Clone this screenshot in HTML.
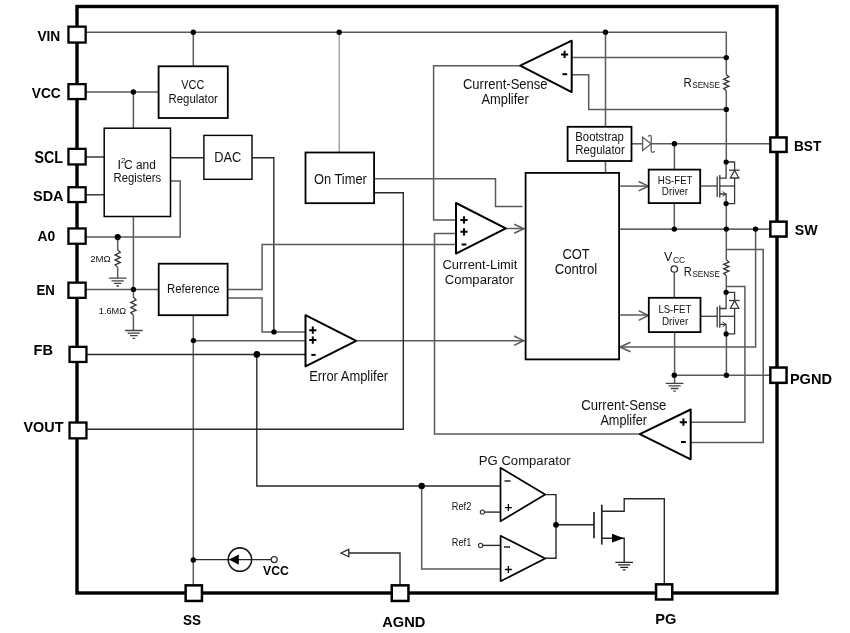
<!DOCTYPE html>
<html><head><meta charset="utf-8"><style>
html,body{margin:0;padding:0;background:#fff;width:850px;height:633px;overflow:hidden}
svg{display:block;will-change:transform}
text{font-family:"Liberation Sans",sans-serif}
</style></head><body>
<svg width="850" height="633" viewBox="0 0 850 633">
<rect x="0" y="0" width="850" height="633" fill="#fff"/>
<polyline points="86,32.2 726.3,32.2 726.3,74.6" fill="none" stroke="#5a5a5a" stroke-width="1.5"/>
<polyline points="726.3,74.6 728.9,76.91 723.7,79.23 728.9,81.54 723.7,83.86 728.9,86.17 723.7,88.49 726.3,90.8" fill="none" stroke="#333" stroke-width="1.3"/>
<polyline points="726.3,90.8 726.3,162" fill="none" stroke="#5a5a5a" stroke-width="1.5"/>
<polyline points="193.3,32 193.3,66" fill="none" stroke="#5a5a5a" stroke-width="1.5"/>
<polyline points="339.2,32.2 339.2,152" fill="none" stroke="#a0a0a0" stroke-width="1.4"/>
<polyline points="605.5,32 605.5,126.7" fill="none" stroke="#5a5a5a" stroke-width="1.5"/>
<polyline points="86,92 158.4,92" fill="none" stroke="#5a5a5a" stroke-width="1.5"/>
<polyline points="133.4,92 133.4,128" fill="none" stroke="#5a5a5a" stroke-width="1.5"/>
<polyline points="86,157 104,157" fill="none" stroke="#2a2a2a" stroke-width="1.4"/>
<polyline points="86,194.8 104,194.8" fill="none" stroke="#2a2a2a" stroke-width="1.4"/>
<polyline points="170.5,157.8 203.8,157.8" fill="none" stroke="#2a2a2a" stroke-width="1.4"/>
<polyline points="170.5,181 180.2,181 180.2,237.1 86,237.1" fill="none" stroke="#5a5a5a" stroke-width="1.5"/>
<polyline points="117.7,237.1 117.7,249.9" fill="none" stroke="#5a5a5a" stroke-width="1.5"/>
<polyline points="117.7,249.9 120.3,252.4 115.1,254.9 120.3,257.4 115.1,259.9 120.3,262.4 115.1,264.9 117.7,267.4" fill="none" stroke="#333" stroke-width="1.3"/>
<polyline points="117.7,267.4 117.7,278.2" fill="none" stroke="#5a5a5a" stroke-width="1.5"/>
<path d="M108.9 278.2H126.5M111.6 280.8H123.8M113.9 283.4H121.5M116.4 286H119" fill="none" stroke="#444" stroke-width="1.3"/>
<polyline points="133.4,216.5 133.4,297.3" fill="none" stroke="#5a5a5a" stroke-width="1.5"/>
<polyline points="133.4,297.3 136,299.87 130.8,302.44 136,305.01 130.8,307.59 136,310.16 130.8,312.73 133.4,315.3" fill="none" stroke="#333" stroke-width="1.3"/>
<polyline points="133.4,315.3 133.4,330.5" fill="none" stroke="#5a5a5a" stroke-width="1.5"/>
<path d="M125 330.5H142.6M127.7 333.1H139.9M130 335.7H137.6M132.5 338.3H135.1" fill="none" stroke="#444" stroke-width="1.3"/>
<polyline points="86,289.4 158.5,289.4" fill="none" stroke="#5a5a5a" stroke-width="1.5"/>
<polyline points="251.8,157.8 273.8,157.8 273.8,331.9" fill="none" stroke="#2a2a2a" stroke-width="1.4"/>
<polyline points="227.6,289.5 262.1,289.5 262.1,244.6 456,244.6" fill="none" stroke="#5a5a5a" stroke-width="1.5"/>
<polyline points="227.6,298 262.1,298 262.1,331.9 305.5,331.9" fill="none" stroke="#5a5a5a" stroke-width="1.5"/>
<polyline points="193.3,315.2 193.3,584.3" fill="none" stroke="#5a5a5a" stroke-width="1.5"/>
<polyline points="193.3,340.7 305.5,340.7" fill="none" stroke="#5a5a5a" stroke-width="1.5"/>
<polyline points="87,354.5 305.5,354.5" fill="none" stroke="#2a2a2a" stroke-width="1.4"/>
<polyline points="256.8,354.5 256.8,486 500.5,486" fill="none" stroke="#2a2a2a" stroke-width="1.4"/>
<polyline points="421.7,486 421.7,569 500.6,569" fill="none" stroke="#5a5a5a" stroke-width="1.5"/>
<polyline points="356.2,340.8 524.5,340.8" fill="none" stroke="#5a5a5a" stroke-width="1.5"/>
<path d="M514.1 336L523.6 340.7L514.1 345.4" fill="none" stroke="#5a5a5a" stroke-width="1.5"/>
<polyline points="87,429.2 403.3,429.2 403.3,192.8 374.1,192.8" fill="none" stroke="#2a2a2a" stroke-width="1.4"/>
<polyline points="374.1,178.7 495.5,178.7 495.5,206.6 522.5,206.6" fill="none" stroke="#5a5a5a" stroke-width="1.5"/>
<polyline points="520.2,65.7 433.6,65.7 433.6,219.9 456,219.9" fill="none" stroke="#5a5a5a" stroke-width="1.5"/>
<polyline points="639.8,434 434.5,434 434.5,233.4 456,233.4" fill="none" stroke="#5a5a5a" stroke-width="1.5"/>
<polyline points="505.8,228.5 524.5,228.5" fill="none" stroke="#5a5a5a" stroke-width="1.5"/>
<path d="M514.2 224.2L523.8 228.7L514.2 233.2" fill="none" stroke="#5a5a5a" stroke-width="1.5"/>
<polyline points="571.7,57.6 726.3,57.6" fill="none" stroke="#5a5a5a" stroke-width="1.5"/>
<polyline points="571.7,74.8 588.7,74.8 588.7,109.4 726.3,109.4" fill="none" stroke="#5a5a5a" stroke-width="1.5"/>
<polyline points="605.5,161 605.5,173.3" fill="none" stroke="#5a5a5a" stroke-width="1.5"/>
<polyline points="631.6,143.8 642.6,143.8" fill="none" stroke="#5a5a5a" stroke-width="1.5"/>
<polyline points="651,143.8 769.3,143.8" fill="none" stroke="#5a5a5a" stroke-width="1.5"/>
<polyline points="674.4,143.8 674.4,169.5" fill="none" stroke="#5a5a5a" stroke-width="1.5"/>
<polygon points="642.6,137.2 651.1,143.8 642.6,150.5" fill="#fff" stroke="#5a5a5a" stroke-width="1.3"/>
<path d="M648.3 136.6Q648.6 135.3 650 135.3Q651.2 135.3 651.2 137V150.8Q651.2 152.3 652.5 152.3Q654 152.3 654.5 151" fill="none" stroke="#5a5a5a" stroke-width="1.3"/>
<polyline points="619.4,186.1 648.5,186.1" fill="none" stroke="#5a5a5a" stroke-width="1.5"/>
<path d="M638.7 181.5L648.3 186.2L638.7 190.9" fill="none" stroke="#5a5a5a" stroke-width="1.5"/>
<polyline points="674.3,203.2 674.3,229.1" fill="none" stroke="#5a5a5a" stroke-width="1.5"/>
<polyline points="619.4,229.1 769.3,229.1" fill="none" stroke="#2a2a2a" stroke-width="1.4"/>
<polyline points="726.3,203.6 726.3,259.8" fill="none" stroke="#5a5a5a" stroke-width="1.5"/>
<polyline points="726.3,259.8 728.9,262.06 723.7,264.31 728.9,266.57 723.7,268.83 728.9,271.09 723.7,273.34 726.3,275.6" fill="none" stroke="#333" stroke-width="1.3"/>
<polyline points="726.3,275.6 726.3,292.3" fill="none" stroke="#5a5a5a" stroke-width="1.5"/>
<polyline points="726.3,249.4 763.2,249.4 763.2,442.6 690.7,442.6" fill="none" stroke="#5a5a5a" stroke-width="1.5"/>
<polyline points="755.6,229.1 755.6,347 620,347" fill="none" stroke="#5a5a5a" stroke-width="1.5"/>
<path d="M630.5 342.3L620 347L630.5 351.7" fill="none" stroke="#5a5a5a" stroke-width="1.5"/>
<polyline points="726.3,286.6 744.9,286.6 744.9,422.2 690.7,422.2" fill="none" stroke="#5a5a5a" stroke-width="1.5"/>
<polyline points="674.3,272.2 674.3,297.6" fill="none" stroke="#5a5a5a" stroke-width="1.5"/>
<circle cx="674.3" cy="269" r="3.2" fill="#fff" stroke="#333" stroke-width="1.3"/>
<polyline points="619.4,315 648.6,315" fill="none" stroke="#5a5a5a" stroke-width="1.5"/>
<path d="M638.7 310.7L648.3 315.5L638.7 320.3" fill="none" stroke="#5a5a5a" stroke-width="1.5"/>
<polyline points="674.6,332.2 674.6,383.3" fill="none" stroke="#5a5a5a" stroke-width="1.5"/>
<path d="M665.8 383.3H683.4M668.5 385.9H680.7M670.8 388.5H678.4M673.3 391.1H675.9" fill="none" stroke="#444" stroke-width="1.3"/>
<polyline points="674.3,375.3 769.4,375.3" fill="none" stroke="#5a5a5a" stroke-width="1.5"/>
<polyline points="726.4,333.6 726.4,375.3" fill="none" stroke="#5a5a5a" stroke-width="1.5"/>
<polyline points="726.1,162 734.6,162 734.6,203.6 726.1,203.6" fill="none" stroke="#3a3a3a" stroke-width="1.3"/>
<polygon points="734.6,170.3 730.4,178 738.8,178" fill="#fff" stroke="#3a3a3a" stroke-width="1.3"/>
<path d="M729 170.2H739.6" fill="none" stroke="#3a3a3a" stroke-width="1.3"/>
<polyline points="726.1,162 726.1,178.2 719.8,178.2" fill="none" stroke="#3a3a3a" stroke-width="1.3"/>
<path d="M719.8 175V197.4" fill="none" stroke="#3a3a3a" stroke-width="1.3"/>
<path d="M717.2 176.5V197" fill="none" stroke="#3a3a3a" stroke-width="1.3"/>
<path d="M700.2 186H717.2" fill="none" stroke="#3a3a3a" stroke-width="1.3"/>
<path d="M719.8 186H734.6" fill="none" stroke="#3a3a3a" stroke-width="1.3"/>
<polyline points="719.8,194 726.1,194 726.1,203.6" fill="none" stroke="#3a3a3a" stroke-width="1.3"/>
<path d="M722.5 191.6L726 194L722.5 196.4" fill="none" stroke="#3a3a3a" stroke-width="1"/>
<circle cx="726.1" cy="162" r="2.6" fill="#000"/>
<circle cx="726.1" cy="203.6" r="2.6" fill="#000"/>
<polyline points="726.1,292.3 734.6,292.3 734.6,333.9 726.1,333.9" fill="none" stroke="#3a3a3a" stroke-width="1.3"/>
<polygon points="734.6,300.6 730.4,308.3 738.8,308.3" fill="#fff" stroke="#3a3a3a" stroke-width="1.3"/>
<path d="M729 300.5H739.6" fill="none" stroke="#3a3a3a" stroke-width="1.3"/>
<polyline points="726.1,292.3 726.1,308.5 719.8,308.5" fill="none" stroke="#3a3a3a" stroke-width="1.3"/>
<path d="M719.8 305.3V327.7" fill="none" stroke="#3a3a3a" stroke-width="1.3"/>
<path d="M717.2 306.8V327.3" fill="none" stroke="#3a3a3a" stroke-width="1.3"/>
<path d="M700.2 316.3H717.2" fill="none" stroke="#3a3a3a" stroke-width="1.3"/>
<path d="M719.8 316.3H734.6" fill="none" stroke="#3a3a3a" stroke-width="1.3"/>
<polyline points="719.8,324.3 726.1,324.3 726.1,333.9" fill="none" stroke="#3a3a3a" stroke-width="1.3"/>
<path d="M722.5 321.9L726 324.3L722.5 326.7" fill="none" stroke="#3a3a3a" stroke-width="1"/>
<circle cx="726.1" cy="292.3" r="2.6" fill="#000"/>
<circle cx="726.1" cy="333.9" r="2.6" fill="#000"/>
<polyline points="545.2,494.6 556,494.6 556,558.3 545,558.3" fill="none" stroke="#2a2a2a" stroke-width="1.4"/>
<polyline points="556,524.8 594,524.8" fill="none" stroke="#2a2a2a" stroke-width="1.4"/>
<path d="M594 512V538.2" fill="none" stroke="#222" stroke-width="1.7"/>
<path d="M601.8 504.7V544.6" fill="none" stroke="#222" stroke-width="1.7"/>
<polyline points="601.8,511.2 624.2,511.2 624.2,498.8 664.3,498.8 664.3,583.3" fill="none" stroke="#2a2a2a" stroke-width="1.4"/>
<polyline points="601.8,538.2 624.2,538.2 624.2,562.3" fill="none" stroke="#2a2a2a" stroke-width="1.4"/>
<polygon points="612,533.8 624,538.2 612,542.6" fill="#000"/>
<path d="M615.4 562.4H633M618.2 564.9H630.2M620.25 567.4H628.15M622.8 569.9H625.6" fill="none" stroke="#222" stroke-width="1.4"/>
<polyline points="484.4,512.1 500.5,512.1" fill="none" stroke="#2a2a2a" stroke-width="1.4"/>
<circle cx="482.4" cy="512.1" r="2.1" fill="#fff" stroke="#333" stroke-width="1.1"/>
<polyline points="482.6,545.4 500.6,545.4" fill="none" stroke="#2a2a2a" stroke-width="1.4"/>
<circle cx="480.6" cy="545.4" r="2.1" fill="#fff" stroke="#333" stroke-width="1.1"/>
<polyline points="193.3,559.6 271,559.6" fill="none" stroke="#2a2a2a" stroke-width="1.4"/>
<circle cx="239.9" cy="559.6" r="11.7" fill="none" stroke="#1a1a1a" stroke-width="1.6"/>
<polygon points="228.9,559.6 238.8,554.4 238.8,564.8" fill="#000"/>
<circle cx="274.2" cy="559.6" r="3" fill="#fff" stroke="#333" stroke-width="1.3"/>
<polyline points="400,584.3 400,553 348.8,553" fill="none" stroke="#2a2a2a" stroke-width="1.4"/>
<polygon points="341,553 348.8,549.3 348.8,556.8" fill="#fff" stroke="#2a2a2a" stroke-width="1.3"/>
<circle cx="193.3" cy="32.2" r="2.7" fill="#000"/>
<circle cx="339.2" cy="32.2" r="2.7" fill="#000"/>
<circle cx="605.5" cy="32.2" r="2.7" fill="#000"/>
<circle cx="133.4" cy="92" r="2.7" fill="#000"/>
<circle cx="133.4" cy="289.4" r="2.7" fill="#000"/>
<circle cx="274" cy="331.9" r="2.7" fill="#000"/>
<circle cx="193.4" cy="340.6" r="2.7" fill="#000"/>
<circle cx="193.3" cy="560" r="2.7" fill="#000"/>
<circle cx="726.3" cy="57.6" r="2.7" fill="#000"/>
<circle cx="726.3" cy="109.4" r="2.7" fill="#000"/>
<circle cx="674.4" cy="143.8" r="2.7" fill="#000"/>
<circle cx="674.3" cy="229.1" r="2.7" fill="#000"/>
<circle cx="726.3" cy="229.1" r="2.7" fill="#000"/>
<circle cx="755.6" cy="229.1" r="2.7" fill="#000"/>
<circle cx="674.3" cy="375.3" r="2.7" fill="#000"/>
<circle cx="726.4" cy="375.3" r="2.7" fill="#000"/>
<circle cx="117.7" cy="237.1" r="3.1" fill="#000"/>
<circle cx="256.8" cy="354.4" r="3.3" fill="#000"/>
<circle cx="421.7" cy="486" r="3.2" fill="#000"/>
<circle cx="556" cy="524.8" r="2.9" fill="#000"/>
<rect x="77" y="6.5" width="700" height="586.5" fill="none" stroke="#000" stroke-width="3.4"/>
<rect x="68.45" y="26.65" width="17.2" height="15.9" fill="#fff" stroke="#000" stroke-width="2.3"/>
<rect x="68.45" y="84.15" width="17.2" height="14.9" fill="#fff" stroke="#000" stroke-width="2.3"/>
<rect x="68.45" y="148.85" width="17.2" height="15.6" fill="#fff" stroke="#000" stroke-width="2.3"/>
<rect x="68.45" y="187.25" width="17.2" height="14.8" fill="#fff" stroke="#000" stroke-width="2.3"/>
<rect x="68.45" y="228.45" width="17.2" height="15.3" fill="#fff" stroke="#000" stroke-width="2.3"/>
<rect x="68.45" y="282.65" width="17.2" height="15.2" fill="#fff" stroke="#000" stroke-width="2.3"/>
<rect x="69.55" y="346.85" width="16.9" height="15.1" fill="#fff" stroke="#000" stroke-width="2.3"/>
<rect x="69.55" y="422.55" width="16.9" height="15.8" fill="#fff" stroke="#000" stroke-width="2.3"/>
<rect x="770.35" y="137.45" width="16.2" height="14.5" fill="#fff" stroke="#000" stroke-width="2.5"/>
<rect x="770.35" y="221.65" width="16.2" height="14.9" fill="#fff" stroke="#000" stroke-width="2.5"/>
<rect x="770.35" y="367.55" width="16.2" height="15.3" fill="#fff" stroke="#000" stroke-width="2.5"/>
<rect x="185.65" y="585.35" width="16.3" height="15.6" fill="#fff" stroke="#000" stroke-width="2.5"/>
<rect x="391.75" y="585.35" width="16.7" height="15.6" fill="#fff" stroke="#000" stroke-width="2.5"/>
<rect x="656.05" y="584.35" width="16.2" height="15.1" fill="#fff" stroke="#000" stroke-width="2.5"/>
<rect x="158.6" y="66.3" width="69.2" height="51.7" fill="#fff" stroke="#000" stroke-width="1.8"/>
<rect x="104.2" y="128.2" width="66.3" height="88.3" fill="#fff" stroke="#000" stroke-width="1.5"/>
<rect x="203.9" y="135.4" width="48.1" height="43.9" fill="#fff" stroke="#000" stroke-width="1.4"/>
<rect x="305.5" y="152.5" width="68.6" height="50.7" fill="#fff" stroke="#000" stroke-width="1.8"/>
<rect x="158.7" y="263.7" width="68.9" height="51.5" fill="#fff" stroke="#000" stroke-width="1.8"/>
<rect x="525.6" y="172.9" width="93.5" height="186.5" fill="#fff" stroke="#000" stroke-width="1.8"/>
<rect x="567.6" y="126.8" width="63.9" height="34.2" fill="#fff" stroke="#000" stroke-width="1.8"/>
<rect x="648.7" y="169.6" width="51.5" height="33.5" fill="#fff" stroke="#000" stroke-width="1.8"/>
<rect x="648.8" y="297.8" width="51.7" height="34.3" fill="#fff" stroke="#000" stroke-width="1.8"/>
<polygon points="571.7,40.7 571.7,92.1 520.2,65.7" fill="#fff" stroke="#000" stroke-width="2" stroke-linejoin="round"/>
<polygon points="456,203 456,253.6 505.8,228.4" fill="#fff" stroke="#000" stroke-width="2" stroke-linejoin="round"/>
<polygon points="305.5,315.2 305.5,366.4 356.2,340.8" fill="#fff" stroke="#000" stroke-width="2" stroke-linejoin="round"/>
<polygon points="690.7,409.5 690.7,459.3 639.8,434.1" fill="#fff" stroke="#000" stroke-width="2" stroke-linejoin="round"/>
<polygon points="500.5,467.8 500.5,521.2 545.2,494.6" fill="#fff" stroke="#000" stroke-width="1.7" stroke-linejoin="round"/>
<polygon points="500.6,535.8 500.6,581.2 545.2,558.5" fill="#fff" stroke="#000" stroke-width="1.7" stroke-linejoin="round"/>
<path d="M561 54.4H568.2M564.6 50.8V58" fill="none" stroke="#000" stroke-width="2"/>
<path d="M562.4 74.2H567.2" fill="none" stroke="#000" stroke-width="2"/>
<path d="M460.4 219.9H467.6M464 216.3V223.5" fill="none" stroke="#000" stroke-width="2"/>
<path d="M460.4 231.8H467.6M464 228.2V235.4" fill="none" stroke="#000" stroke-width="2"/>
<path d="M461.6 244.5H466.4" fill="none" stroke="#000" stroke-width="2"/>
<path d="M309.2 330.2H316.4M312.8 326.6V333.8" fill="none" stroke="#000" stroke-width="2"/>
<path d="M309.2 340.1H316.4M312.8 336.5V343.7" fill="none" stroke="#000" stroke-width="2"/>
<path d="M311.3 354.9H315.7" fill="none" stroke="#000" stroke-width="2"/>
<path d="M679.8 422.2H687M683.4 418.6V425.8" fill="none" stroke="#000" stroke-width="2"/>
<path d="M681 442H685.8" fill="none" stroke="#000" stroke-width="2"/>
<path d="M504.5 481H510.5" fill="none" stroke="#000" stroke-width="1.3"/>
<path d="M504.9 507.6H511.9M508.4 504.1V511.1" fill="none" stroke="#000" stroke-width="1.3"/>
<path d="M504 547H510" fill="none" stroke="#000" stroke-width="1.3"/>
<path d="M504.9 569.5H511.9M508.4 566V573" fill="none" stroke="#000" stroke-width="1.3"/>
<text x="37.4" y="40.7" font-size="14.83" font-weight="bold" fill="#000" textLength="22.9" lengthAdjust="spacingAndGlyphs">VIN</text>
<text x="31.8" y="98" font-size="15.12" font-weight="bold" fill="#000" textLength="28.9" lengthAdjust="spacingAndGlyphs">VCC</text>
<text x="34.6" y="163" font-size="16.28" font-weight="bold" fill="#000" textLength="28.4" lengthAdjust="spacingAndGlyphs">SCL</text>
<text x="33" y="201.2" font-size="14.39" font-weight="bold" fill="#000" textLength="30.5" lengthAdjust="spacingAndGlyphs">SDA</text>
<text x="37.6" y="240.5" font-size="14.39" font-weight="bold" fill="#000" textLength="17.7" lengthAdjust="spacingAndGlyphs">A0</text>
<text x="36.5" y="294.6" font-size="15.12" font-weight="bold" fill="#000" textLength="18.3" lengthAdjust="spacingAndGlyphs">EN</text>
<text x="33.6" y="355.3" font-size="14.39" font-weight="bold" fill="#000" textLength="19.4" lengthAdjust="spacingAndGlyphs">FB</text>
<text x="23.5" y="432.2" font-size="14.24" font-weight="bold" fill="#000" textLength="40" lengthAdjust="spacingAndGlyphs">VOUT</text>
<text x="794" y="150.7" font-size="14.83" font-weight="bold" fill="#000" textLength="27.3" lengthAdjust="spacingAndGlyphs">BST</text>
<text x="794.7" y="234.7" font-size="15.55" font-weight="bold" fill="#000" textLength="22.9" lengthAdjust="spacingAndGlyphs">SW</text>
<text x="789.9" y="383.5" font-size="14.68" font-weight="bold" fill="#000" textLength="42.1" lengthAdjust="spacingAndGlyphs">PGND</text>
<text x="183" y="624.8" font-size="14.83" font-weight="bold" fill="#000" textLength="18" lengthAdjust="spacingAndGlyphs">SS</text>
<text x="382.2" y="627.1" font-size="15.41" font-weight="bold" fill="#000" textLength="43.11" lengthAdjust="spacingAndGlyphs">AGND</text>
<text x="655.3" y="624.4" font-size="14.1" font-weight="bold" fill="#000" textLength="21.1" lengthAdjust="spacingAndGlyphs">PG</text>
<text x="263" y="575.4" font-size="13.66" font-weight="bold" fill="#000" textLength="25.8" lengthAdjust="spacingAndGlyphs">VCC</text>
<text x="181.2" y="88.6" font-size="12.35" font-weight="normal" fill="#111" textLength="23.1" lengthAdjust="spacingAndGlyphs">VCC</text>
<text x="168.5" y="102.7" font-size="12.35" font-weight="normal" fill="#111" textLength="49.4" lengthAdjust="spacingAndGlyphs">Regulator</text>
<text x="124" y="169.4" font-size="12.65" font-weight="normal" fill="#111" textLength="31.81" lengthAdjust="spacingAndGlyphs">C and</text>
<text x="117.6" y="169.4" font-size="12.6" fill="#111">I</text>
<text x="121" y="162.6" font-size="7.6" fill="#111">2</text>
<text x="113.6" y="182.4" font-size="12.65" font-weight="normal" fill="#111" textLength="47.6" lengthAdjust="spacingAndGlyphs">Registers</text>
<text x="214.2" y="162" font-size="14.83" font-weight="normal" fill="#111" textLength="27.1" lengthAdjust="spacingAndGlyphs">DAC</text>
<text x="314" y="183.8" font-size="14.39" font-weight="normal" fill="#111" textLength="52.8" lengthAdjust="spacingAndGlyphs">On Timer</text>
<text x="167" y="293.2" font-size="13.37" font-weight="normal" fill="#111" textLength="52.7" lengthAdjust="spacingAndGlyphs">Reference</text>
<text x="562.4" y="258.8" font-size="14.39" font-weight="normal" fill="#111" textLength="27.2" lengthAdjust="spacingAndGlyphs">COT</text>
<text x="554.7" y="274.4" font-size="14.39" font-weight="normal" fill="#111" textLength="42.5" lengthAdjust="spacingAndGlyphs">Control</text>
<text x="575.3" y="140.8" font-size="12.65" font-weight="normal" fill="#111" textLength="48.5" lengthAdjust="spacingAndGlyphs">Bootstrap</text>
<text x="575.3" y="154.1" font-size="12.65" font-weight="normal" fill="#111" textLength="49.4" lengthAdjust="spacingAndGlyphs">Regulator</text>
<text x="657.8" y="183.6" font-size="10.17" font-weight="normal" fill="#111" textLength="34.6" lengthAdjust="spacingAndGlyphs">HS-FET</text>
<text x="661.8" y="195.2" font-size="10.76" font-weight="normal" fill="#111" textLength="26.3" lengthAdjust="spacingAndGlyphs">Driver</text>
<text x="658.4" y="312.9" font-size="10.17" font-weight="normal" fill="#111" textLength="32.9" lengthAdjust="spacingAndGlyphs">LS-FET</text>
<text x="661.9" y="324.7" font-size="10.76" font-weight="normal" fill="#111" textLength="26.3" lengthAdjust="spacingAndGlyphs">Driver</text>
<text x="462.9" y="89.2" font-size="15.26" font-weight="normal" fill="#111" textLength="84.7" lengthAdjust="spacingAndGlyphs">Current-Sense</text>
<text x="481.5" y="104.1" font-size="15.26" font-weight="normal" fill="#111" textLength="47.19" lengthAdjust="spacingAndGlyphs">Amplifer</text>
<text x="442.5" y="269.3" font-size="13.52" font-weight="normal" fill="#111" textLength="74.8" lengthAdjust="spacingAndGlyphs">Current-Limit</text>
<text x="444.7" y="284" font-size="13.52" font-weight="normal" fill="#111" textLength="69.2" lengthAdjust="spacingAndGlyphs">Comparator</text>
<text x="309.2" y="380.5" font-size="14.39" font-weight="normal" fill="#111" textLength="79" lengthAdjust="spacingAndGlyphs">Error Amplifer</text>
<text x="581.2" y="410.1" font-size="13.95" font-weight="normal" fill="#111" textLength="85.2" lengthAdjust="spacingAndGlyphs">Current-Sense</text>
<text x="600.4" y="425" font-size="13.95" font-weight="normal" fill="#111" textLength="46.59" lengthAdjust="spacingAndGlyphs">Amplifer</text>
<text x="478.8" y="464.7" font-size="13.66" font-weight="normal" fill="#111" textLength="91.81" lengthAdjust="spacingAndGlyphs">PG Comparator</text>
<text x="451.8" y="510.2" font-size="10.03" font-weight="normal" fill="#111" textLength="19.5" lengthAdjust="spacingAndGlyphs">Ref2</text>
<text x="451.8" y="545.7" font-size="10.03" font-weight="normal" fill="#111" textLength="19.5" lengthAdjust="spacingAndGlyphs">Ref1</text>
<text x="90.2" y="261.8" font-size="9.3" font-weight="normal" fill="#111" textLength="20.6" lengthAdjust="spacingAndGlyphs">2MΩ</text>
<text x="98.8" y="313.9" font-size="9.59" font-weight="normal" fill="#111" textLength="27.3" lengthAdjust="spacingAndGlyphs">1.6MΩ</text>
<text x="683.5" y="87" font-size="13.66" font-weight="normal" fill="#111" textLength="8.3" lengthAdjust="spacingAndGlyphs">R</text>
<text x="692.2" y="88.2" font-size="9.59" font-weight="normal" fill="#111" textLength="27.8" lengthAdjust="spacingAndGlyphs">SENSE</text>
<text x="683.7" y="275.6" font-size="13.66" font-weight="normal" fill="#111" textLength="8" lengthAdjust="spacingAndGlyphs">R</text>
<text x="692.4" y="277" font-size="8.87" font-weight="normal" fill="#111" textLength="27.6" lengthAdjust="spacingAndGlyphs">SENSE</text>
<text x="664.1" y="261" font-size="12.94" font-weight="normal" fill="#111" textLength="8.3" lengthAdjust="spacingAndGlyphs">V</text>
<text x="672.9" y="262.7" font-size="8.58" font-weight="normal" fill="#111" textLength="12.4" lengthAdjust="spacingAndGlyphs">CC</text>
</svg></body></html>
